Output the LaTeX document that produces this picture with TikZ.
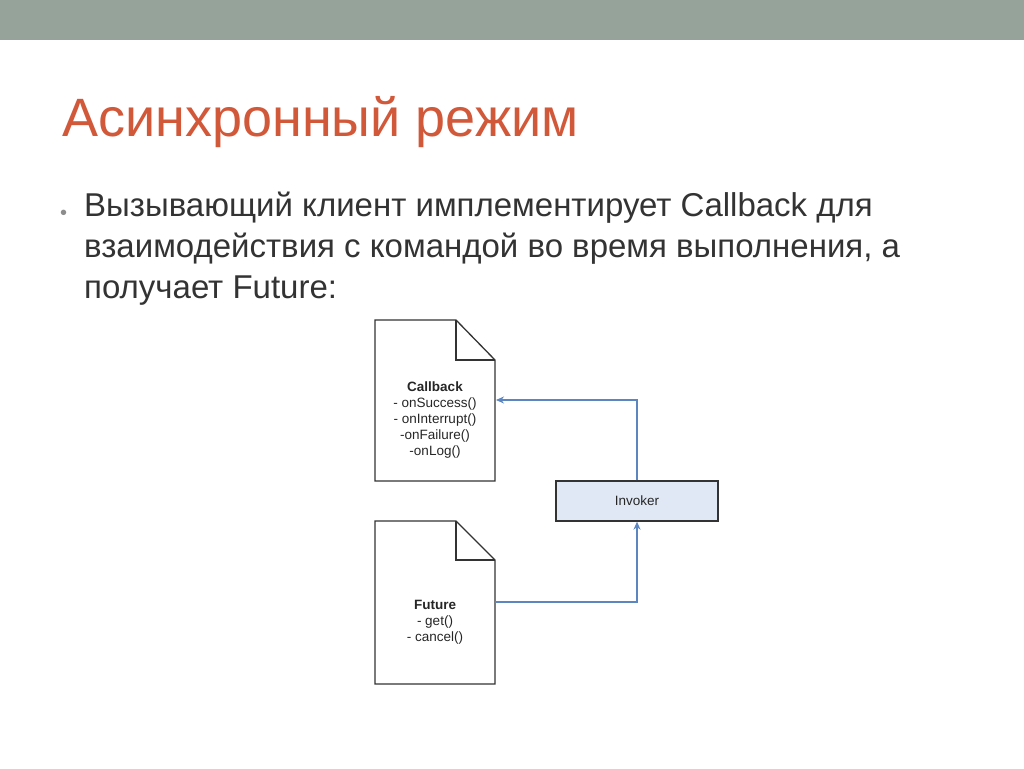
\documentclass[tikz,border=0pt]{standalone}
\usepackage{fontspec}
\setmainfont{Liberation Sans}
\usetikzlibrary{arrows.meta}
\definecolor{band}{HTML}{95A39B}
\definecolor{ttl}{HTML}{D2583A}
\definecolor{arr}{HTML}{5B86C0}
\definecolor{inv}{HTML}{E1E8F5}
\begin{document}
\begin{tikzpicture}[x=1pt,y=-1pt,
  doc/.style={draw=black!80,line width=1.3pt},
  conn/.style={draw=arr,line width=1.3pt,-{Stealth[length=8pt,width=7pt]}},
  lbl/.style={font=\fontsize{13.5}{16}\selectfont,align=center,text=black!85}]
\useasboundingbox (0,0) rectangle (1024,768);
\fill[band] (0,0) rectangle (1024,40);
\node[anchor=base west,text=ttl,font=\fontsize{54}{60}\selectfont,inner sep=0] (title) at (62,136) {Асинхронный режим};
\node[anchor=base west,text=black!45,font=\fontsize{20}{24}\selectfont,inner sep=0] (bul) at (60,219) {•};
\node[anchor=north west,align=left,text=black!80,font=\fontsize{33}{41}\selectfont,inner sep=0] (body) at (84,192)
 {Вызывающий клиент имплементирует Callback для\\взаимодействия с командой во время выполнения, а\\получает Future:};
% Callback document
\draw[doc] (375,320) -- (456,320) -- (495,360) -- (495,481) -- (375,481) -- cycle;
\draw[doc] (456,320) -- (456,360) -- (495,360);
\node[lbl] (cb) at (435,420) {\textbf{Callback}\\- onSuccess()\\- onInterrupt()\\-onFailure()\\-onLog()};
\coordinate (cbr) at (496,400);
% Future document
\draw[doc] (375,521) -- (456,521) -- (495,560) -- (495,684) -- (375,684) -- cycle;
\draw[doc] (456,521) -- (456,560) -- (495,560);
\node[lbl] (fu) at (435,622) {\textbf{Future}\\- get()\\- cancel()};
\coordinate (fur) at (495,602);
% Invoker
\node[draw=black!80,line width=1.3pt,fill=inv,minimum width=162pt,minimum height=40pt,inner sep=0,lbl] (invk) at (637,501) {Invoker};
\draw[conn] (invk.north) |- (cbr);
\draw[conn] (fur) -| (invk.south);
\end{tikzpicture}
\end{document}
